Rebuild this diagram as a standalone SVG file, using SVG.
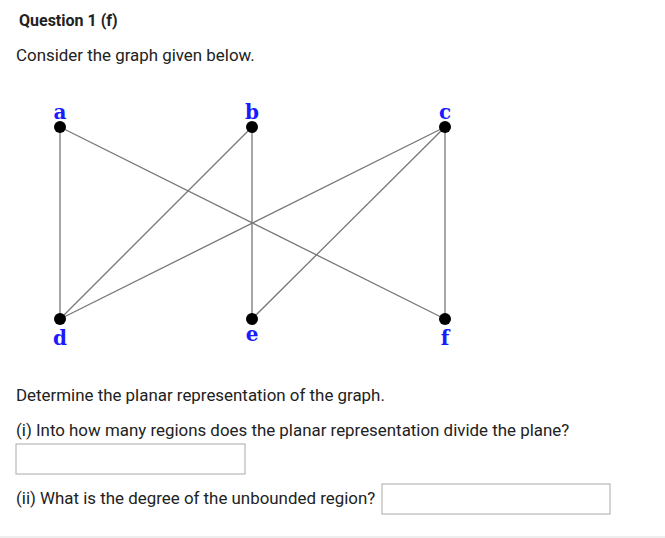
<svg xmlns="http://www.w3.org/2000/svg" width="665" height="538" viewBox="0 0 665 538">
<style>
.t{font-family:Roboto,"Liberation Sans",sans-serif;font-size:16.9px;fill:#222}
.l{font-family:"DejaVu Serif","Liberation Serif",serif;font-size:20px;font-weight:bold;fill:#1a1aff;text-anchor:middle}
.e line{stroke:#777;stroke-width:1.3}
.box{fill:#fff;stroke:#aaa;stroke-width:1}
</style>
<rect width="665" height="538" fill="#fff"/>
<text x="19" y="26" class="t" font-weight="bold" style="font-size:16px">Question 1 (f)</text>
<text x="16" y="61" class="t">Consider the graph given below.</text>
<g class="e" id="edges">
<line x1="60" y1="127" x2="60" y2="319"/>
<line x1="60" y1="127" x2="445" y2="319"/>
<line x1="252" y1="127" x2="60" y2="319"/>
<line x1="252" y1="127" x2="252" y2="319"/>
<line x1="445" y1="127" x2="60" y2="319"/>
<line x1="445" y1="127" x2="252" y2="319"/>
<line x1="445" y1="127" x2="445" y2="319"/>
</g>
<g id="a"><circle cx="60" cy="127" r="6"/><text x="60" y="119" class="l">a</text></g>
<g id="b"><circle cx="252" cy="127" r="6"/><text x="252" y="119" class="l">b</text></g>
<g id="c"><circle cx="445" cy="127" r="6"/><text x="445" y="119" class="l">c</text></g>
<g id="d"><circle cx="60" cy="319" r="6"/><text x="60" y="345" class="l">d</text></g>
<g id="e"><circle cx="252" cy="319" r="6"/><text x="252" y="341" class="l">e</text></g>
<g id="f"><circle cx="445" cy="319" r="6"/><text x="445" y="345" class="l">f</text></g>
<text x="16" y="401" class="t">Determine the planar representation of the graph.</text>
<text x="16" y="436" class="t">(i) Into how many regions does the planar representation divide the plane?</text>
<rect x="16" y="444" width="229" height="30" class="box"/>
<text x="16" y="504" class="t">(ii) What is the degree of the unbounded region?</text>
<rect x="382" y="484" width="228" height="30" class="box"/>
<line x1="0" y1="537" x2="665" y2="537" stroke="#ddd"/>
</svg>
